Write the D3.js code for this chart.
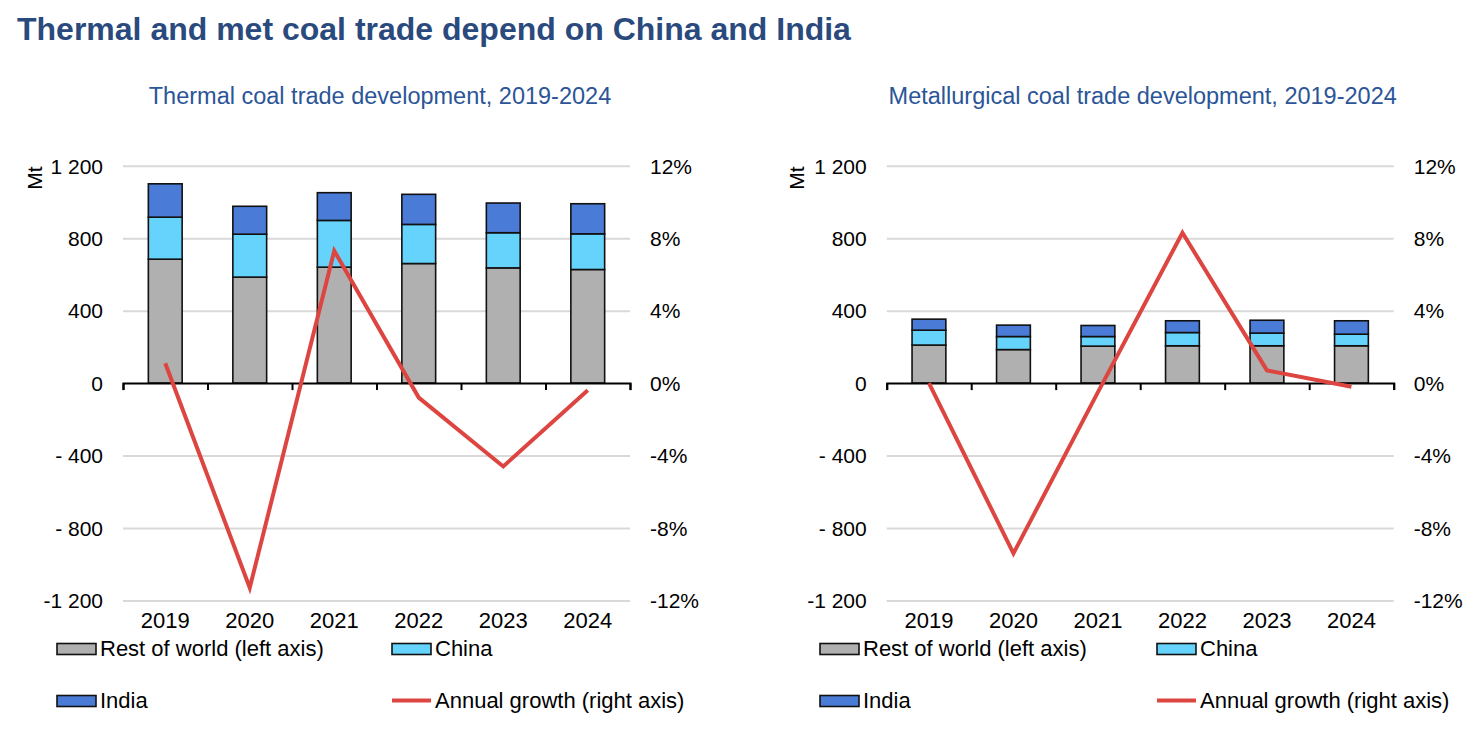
<!DOCTYPE html>
<html>
<head>
<meta charset="utf-8">
<script src="https://cdn.jsdelivr.net/npm/d3@7/dist/d3.min.js"></script>
<style>
  body { margin: 0; background: #fff; }
  text { font-family: "Liberation Sans", Arial, sans-serif; }
</style>
</head>
<body>
<svg id="chart"></svg>
<script>
// data
const years = ['2019', '2020', '2021', '2022', '2023', '2024'];

const thermalRow = [684, 585, 640, 660, 636, 627];
const thermalChina = [232, 237, 258, 216, 194, 197];
const thermalIndia = [184, 154, 153, 166, 164, 166];
const thermalGrowth = [1.1, -11.3, 7.3, -0.8, -4.6, -0.4];

const metRow = [210, 185, 204, 206, 206, 206];
const metChina = [82, 72, 53, 73, 70, 64];
const metIndia = [61, 63, 61, 65, 71, 74];
const metGrowth = [0.0, -9.4, -0.5, 8.3, 0.7, -0.2];

const leftTicks = [-1200, -800, -400, 0, 400, 800, 1200];
const leftTickLabels = ['-1 200', '- 800', '- 400', '0', '400', '800', '1 200'];
const rightTicks = [-12, -8, -4, 0, 4, 8, 12];
const rightTickLabels = ['-12%', '-8%', '-4%', '0%', '4%', '8%', '12%'];

const seriesNames = ['Rest of world (left axis)', 'China', 'India', 'Annual growth (right axis)'];
const colors = ['#b0b0b0', '#66d3fd', '#4a7bd6', '#dd4540'];

const W = 1483, H = 749;
const svg = d3.select('#chart').attr('width', W).attr('height', H);

svg.append('text')
  .attr('x', 17).attr('y', 39.5)
  .attr('fill', '#2a4a7e')
  .style('font-size', '32px')
  .style('font-weight', 'bold')
  .text('Thermal and met coal trade depend on China and India');

function drawPanel(cfg) {
  const plotW = 507;
  const top = 165.7, bottom = 600.5;

  const g = svg.append('g').attr('transform', `translate(${cfg.left},0)`);

  const x = d3.scaleBand().domain(years).range([0, plotW]).paddingInner(0.6).paddingOuter(0.3);
  const xTick = d3.scaleLinear().domain([0, years.length]).range([0, plotW]);
  const yL = d3.scaleLinear().domain([-1200, 1200]).range([bottom, top]);
  const yR = d3.scaleLinear().domain([-12, 12]).range([bottom, top]);

  // subtitle
  svg.append('text')
    .attr('x', cfg.left + cfg.titleDx).attr('y', 103.5)
    .attr('text-anchor', 'middle')
    .attr('fill', '#2b5597')
    .style('font-size', '23.5px')
    .text(cfg.title);

  // gridlines
  g.append('g')
    .call(d3.axisLeft(yL).tickValues(leftTicks.filter(d => d !== 0)).tickSize(-plotW).tickFormat(''))
    .call(s => s.select('.domain').remove())
    .call(s => s.selectAll('line').attr('stroke', '#d9d9d9').attr('stroke-width', 2));

  // left labels
  g.append('g')
    .attr('transform', 'translate(-17,0)')
    .call(d3.axisLeft(yL).tickValues(leftTicks).tickSize(0).tickFormat((d, i) => leftTickLabels[i]))
    .call(s => s.select('.domain').remove())
    .call(s => s.selectAll('text').style('font-size', '21px').attr('fill', '#000').attr('dy', '0.35em'));

  // right labels
  g.append('g')
    .attr('transform', `translate(${plotW + 17},0)`)
    .call(d3.axisRight(yR).tickValues(rightTicks).tickSize(0).tickFormat((d, i) => rightTickLabels[i]))
    .call(s => s.select('.domain').remove())
    .call(s => s.selectAll('text').style('font-size', '21px').attr('fill', '#000').attr('dy', '0.35em'));

  // Mt
  g.append('text')
    .attr('transform', `translate(${cfg.mtX},178) rotate(-90)`)
    .attr('text-anchor', 'middle')
    .attr('dy', '0.35em')
    .style('font-size', '21px')
    .text('Mt');

  // stacked bars
  const rows = years.map((y, i) => ({ year: y, row: cfg.row[i], china: cfg.china[i], india: cfg.india[i] }));
  const stack = d3.stack().keys(['row', 'china', 'india'])(rows);

  g.append('g').selectAll('g')
    .data(stack)
    .join('g')
    .attr('fill', (d, i) => colors[i])
    .selectAll('rect')
    .data(d => d)
    .join('rect')
    .attr('x', d => x(d.data.year))
    .attr('y', d => yL(d[1]))
    .attr('width', x.bandwidth())
    .attr('height', d => yL(d[0]) - yL(d[1]))
    .attr('stroke', '#111')
    .attr('stroke-width', 1.6);

  // zero axis with category ticks
  g.append('g')
    .attr('transform', `translate(0,${yL(0)})`)
    .call(d3.axisBottom(xTick).tickValues(d3.range(years.length + 1)).tickSize(7).tickFormat('').tickSizeOuter(7))
    .call(s => s.selectAll('line, path').attr('stroke', '#000').attr('stroke-width', 2));

  // year labels
  g.append('g')
    .attr('transform', `translate(0,${bottom})`)
    .call(d3.axisBottom(x).tickSize(0))
    .call(s => s.select('.domain').remove())
    .call(s => s.selectAll('text').style('font-size', '22px').attr('fill', '#000').attr('y', 12).attr('dy', '0.71em'));

  // growth line
  const line = d3.line()
    .x((d, i) => x(years[i]) + x.bandwidth() / 2)
    .y(d => yR(d));

  g.append('path')
    .datum(cfg.growth)
    .attr('fill', 'none')
    .attr('stroke', colors[3])
    .attr('stroke-width', 4)
    .attr('stroke-linejoin', 'miter')
    .attr('d', line);

  // legend
  const leg = svg.append('g').attr('transform', `translate(${cfg.legX},0)`);
  const legPos = [[0, 648.5], [cfg.legCol2, 648.5], [0, 700.5], [cfg.legCol2, 700.5]];
  seriesNames.forEach((name, i) => {
    const [lx, ly] = legPos[i];
    if (i < 3) {
      leg.append('rect')
        .attr('x', lx).attr('y', ly - 5)
        .attr('width', 39).attr('height', 11)
        .attr('fill', colors[i])
        .attr('stroke', '#111').attr('stroke-width', 1.6);
    } else {
      leg.append('line')
        .attr('x1', lx).attr('x2', lx + 39)
        .attr('y1', ly).attr('y2', ly)
        .attr('stroke', colors[3]).attr('stroke-width', 4);
    }
    leg.append('text')
      .attr('x', lx + 43).attr('y', ly)
      .attr('dy', '0.35em')
      .style('font-size', '22px')
      .text(name);
  });
}

drawPanel({
  left: 123,
  titleDx: 257,
  title: 'Thermal coal trade development, 2019-2024',
  mtX: -88,
  row: thermalRow, china: thermalChina, india: thermalIndia, growth: thermalGrowth,
  legX: 57, legCol2: 335
});

drawPanel({
  left: 886.7,
  titleDx: 256,
  title: 'Metallurgical coal trade development, 2019-2024',
  mtX: -90,
  row: metRow, china: metChina, india: metIndia, growth: metGrowth,
  legX: 820, legCol2: 337
});
</script>
</body>
</html>
